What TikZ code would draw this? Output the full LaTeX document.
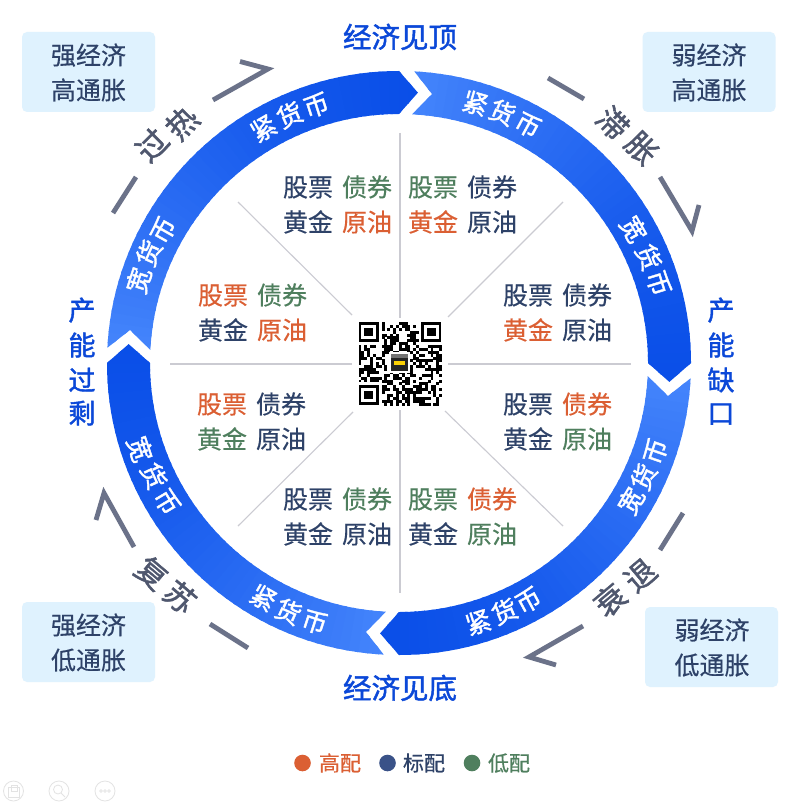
\documentclass[tikz,border=0pt]{standalone}
\usepackage{fontspec}
\setmainfont{Noto Sans CJK SC}
\newfontfamily\medfont[FakeBold=1.5]{Noto Sans CJK SC}
\newfontfamily\softfont[FakeBold=0.4]{Noto Sans CJK SC}
\definecolor{navytxt}{HTML}{2E4268}
\definecolor{hi}{HTML}{DB5F33}
\definecolor{lo}{HTML}{4F7F5E}
\definecolor{bandtail}{HTML}{4585FC}
\definecolor{bandhead}{HTML}{0A4FE8}
\definecolor{bluetxt}{HTML}{0B48D8}
\definecolor{greytxt}{HTML}{4F576E}
\definecolor{arrowgrey}{HTML}{6B7289}
\definecolor{boxfill}{HTML}{DFF2FE}
\definecolor{spoke}{HTML}{CBCBD2}
\definecolor{legnavy}{HTML}{3A5288}
\tikzset{
  cellt/.style={inner sep=0pt,font=\fontsize{25}{25}\selectfont\softfont,text height=22pt,text depth=3pt},
  boxt/.style={inner sep=0pt,font=\fontsize{25}{25}\selectfont\softfont,text=navytxt,text height=22pt,text depth=3pt},
  statebox/.style={fill=boxfill,rounded corners=5pt,minimum width=133pt,minimum height=80pt,inner sep=0pt},
  bandt/.style={inner sep=0pt,text=white,font=\fontsize{25.5}{25.5}\selectfont\medfont,text height=22.4pt,text depth=3.1pt},
  outert/.style={inner sep=0pt,text=greytxt,font=\fontsize{31}{31}\selectfont\medfont,text height=27.3pt,text depth=3.7pt},
  bluet/.style={inner sep=0pt,text=bluetxt,font=\fontsize{28.5}{28.5}\selectfont\medfont,text height=25pt,text depth=3.5pt},
  bluev/.style={inner sep=0pt,text=bluetxt,font=\fontsize{27}{27}\selectfont\medfont,text height=23.8pt,text depth=3.2pt},
  legt/.style={inner sep=0pt,font=\fontsize{21}{21}\selectfont\softfont,text height=18.5pt,text depth=2.5pt},
  spokeline/.style={spoke,line width=1.1pt},
  cyclearrow/.style={arrowgrey,line width=4.8pt,line join=miter,miter limit=12},
  icon/.style={draw=black!11,line width=.8pt,fill=none}
}
\newcommand{\cellgroup}[8]{%
  \node[cellt,text=#5] (#1a) at (#2,#4) {股票};
  \node[cellt,text=#6] (#1b) at (#3,#4) {债券};
  \node[cellt,text=#7] (#1c) at (#2,#4+35) {黄金};
  \node[cellt,text=#8] (#1d) at (#3,#4+35) {原油};
}
\newcommand{\ringseg}[1]{%
  \begin{scope}
    \clip (#1:292) arc[start angle=#1,end angle=#1-87,radius=292] -- (#1-91:271)
      -- (#1-87:249) arc[start angle=#1-87,end angle=#1,radius=249] -- (#1-4:271) -- cycle;
    \foreach \t in {0,...,46}{
      \pgfmathsetmacro{\aa}{#1+1-2*\t}
      \pgfmathsetmacro{\bb}{\aa-2.6}
      \pgfmathsetmacro{\pp}{100*(1-min(1,\t/46))^1.5}
      \fill[color=bandtail!\pp!bandhead] (0,0) -- (\aa:330) -- (\bb:330) -- cycle;
    }
  \end{scope}
}
\newcommand{\finder}[3]{%
  \fill[black] (#1,#2) rectangle ++(7*#3,7*#3);
  \fill[white] (#1+#3,#2+#3) rectangle ++(5*#3,5*#3);
  \fill[black] (#1+2*#3,#2+2*#3) rectangle ++(3*#3,3*#3);
}
\begin{document}
\begin{tikzpicture}[x=1pt,y=-1pt]
\useasboundingbox (0,0) rectangle (800,802);
\fill[white] (0,0) rectangle (800,802);

% spokes
\coordinate (c1) at (400,133); \coordinate (c2) at (400,318);
\coordinate (c3) at (400,410); \coordinate (c4) at (400,593);
\coordinate (c5) at (170,364); \coordinate (c6) at (352,364);
\coordinate (c7) at (448,364); \coordinate (c8) at (631,364);
\draw[spokeline] (c1) -- (c2);
\draw[spokeline] (c3) -- (c4);
\draw[spokeline] (c5) -- (c6);
\draw[spokeline] (c7) -- (c8);
\draw[spokeline] (238,202) -- (352,315);
\draw[spokeline] (563,202) -- (448,317);
\draw[spokeline] (445,411) -- (563,526);
\draw[spokeline] (353,412) -- (238,526);

% ring
\begin{scope}[shift={(399,363)},y=1pt]
  \ringseg{177}
  \ringseg{87}
  \ringseg{-3}
  \ringseg{-93}
  \foreach \n/\a/\r/\ch in {
    tl1/120/271/紧,tl2/113.8/271/货,tl3/107.8/271/币,
    tr1/73.6/271/紧,tr2/67.6/271/货,tr3/61.5/271/币}{
    \node[bandt,rotate=\a-90] (\n) at (\a:\r) {\ch};
  }
  \foreach \n/\a/\r/\ch in {
    lu1/162.4/273/宽,lu2/156.3/273/货,lu3/150.6/271/币,
    ru1/29.7/270/宽,ru2/23/271/货,ru3/17.1/272/币}{
    \node[bandt,rotate=\a-90] (\n) at (\a:\r) {\ch};
  }
  \foreach \n/\a/\r/\ch in {
    rl1/-30.7/270/宽,rl2/-25/270/货,rl3/-19/271/币,
    br1/-73/271/紧,br2/-67/270/货,br3/-61.4/270/币,
    bl1/240/271/紧,bl2/246/272/货,bl3/252/272/币,
    ll1/198.4/273/宽,ll2/204.7/270/货,ll3/210.9/270/币}{
    \node[bandt,rotate=\a+90] (\n) at (\a:\r) {\ch};
  }
\end{scope}

% cycle arrows
\draw[cyclearrow] (113,213) -- (136,177);
\draw[cyclearrow] (213,100) -- (268,69) -- (240,61.5);
\draw[cyclearrow] (548,78) -- (584,99);
\draw[cyclearrow] (660,177) -- (692,231) -- (699,205);
\draw[cyclearrow] (683,513) -- (660,550);
\draw[cyclearrow] (583,626) -- (529,657) -- (556,665);
\draw[cyclearrow] (210,624) -- (248,648);
\draw[cyclearrow] (134,547) -- (104,493) -- (96,520);

% outer labels
\node[outert,rotate=45] (o1) at (152,145) {过};
\node[outert,rotate=45] (o2) at (182,123) {热};
\node[outert,rotate=-45] (o3) at (613,123) {滞};
\node[outert,rotate=-45] (o4) at (642,148) {胀};
\node[outert,rotate=40] (o5) at (610,600) {衰};
\node[outert,rotate=40] (o6) at (640,575) {退};
\node[outert,rotate=-40] (o7) at (152,573) {复};
\node[outert,rotate=-40] (o8) at (180,597) {苏};

% blue labels
\node[bluet] (top) at (400,37) {经济见顶};
\node[bluet] (bottom) at (400,688) {经济见底};
\node[bluev] (p1) at (82,310) {产};
\node[bluev] (p2) at (82,345) {能};
\node[bluev] (p3) at (82,380) {过};
\node[bluev] (p4) at (82,413) {剩};
\node[bluev] (q1) at (721,310) {产};
\node[bluev] (q2) at (721,345) {能};
\node[bluev] (q3) at (721,380) {缺};
\node[bluev] (q4) at (721,413) {口};

% state boxes
\node[statebox] (b1) at (88.5,72) {};
\node[statebox] (b2) at (709,72) {};
\node[statebox] (b3) at (88.5,642) {};
\node[statebox] (b4) at (711.5,647) {};
\node[boxt] (b1a) at (88.5,55) {强经济};
\node[boxt] (b1b) at (88.5,90) {高通胀};
\node[boxt] (b2a) at (709,55) {弱经济};
\node[boxt] (b2b) at (709,90) {高通胀};
\node[boxt] (b3a) at (88.5,625) {强经济};
\node[boxt] (b3b) at (88.5,660) {低通胀};
\node[boxt] (b4a) at (712,630) {弱经济};
\node[boxt] (b4b) at (712,665) {低通胀};

% allocation cells
\cellgroup{A}{308}{367}{187}{navytxt}{lo}{navytxt}{hi}
\cellgroup{B}{433}{492}{187}{lo}{navytxt}{hi}{navytxt}
\cellgroup{C}{223}{282}{295}{hi}{lo}{navytxt}{hi}
\cellgroup{D}{528}{587}{295}{navytxt}{navytxt}{hi}{navytxt}
\cellgroup{E}{222}{281}{404}{hi}{navytxt}{lo}{navytxt}
\cellgroup{F}{528}{587}{404}{navytxt}{hi}{navytxt}{lo}
\cellgroup{G}{308}{367}{499}{navytxt}{lo}{navytxt}{navytxt}
\cellgroup{H}{433}{492}{499}{lo}{hi}{navytxt}{lo}

% QR code
\pgfmathsetseed{4242}
\foreach \i in {0,...,28}{
  \foreach \j in {0,...,28}{
    \pgfmathparse{rnd<0.5 ? 1 : 0}
    \ifnum\pgfmathresult=1
      \fill[black] (358.5+2.88*\i,322+2.88*\j) rectangle ++(2.98,2.98);
    \fi
  }
}
\fill[white] (358.5,322) rectangle ++(23,23);
\fill[white] (418.5,322) rectangle ++(23,23);
\fill[white] (358.5,382) rectangle ++(23,23.5);
\finder{358.5}{322}{2.88}
\finder{421.3}{322}{2.88}
\finder{358.5}{384.9}{2.88}
\fill[white] (389,352) rectangle (410,373);
\fill[black!85] (391,354) rectangle (408,371);
\fill[black!55] (391,354) rectangle (408,358);
\fill[yellow!70!orange] (394,361) rectangle (405,365);

% legend
\fill[color=hi] (302.5,763) circle (8.3);
\node[legt,text=hi] (l1) at (340,763) {高配};
\fill[color=legnavy] (387.5,763) circle (8.3);
\node[legt,text=navytxt] (l2) at (424,763) {标配};
\fill[color=lo] (472,763) circle (8.3);
\node[legt,text=lo] (l3) at (509,763) {低配};

% faint viewer icons
\draw[icon] (13.5,791) circle (10);
\draw[icon] (59,791) circle (10);
\draw[icon] (105,791) circle (10);
\draw[icon] (8,787) rectangle (19,797);
\draw[icon] (11,785) rectangle (17,791);
\draw[icon] (58,789.5) circle (4.5);
\draw[icon] (61,793) -- (65,797);
\draw[icon] (101,791) circle (1.4);
\draw[icon] (105,791) circle (1.4);
\draw[icon] (109,791) circle (1.4);
\end{tikzpicture}
\end{document}
